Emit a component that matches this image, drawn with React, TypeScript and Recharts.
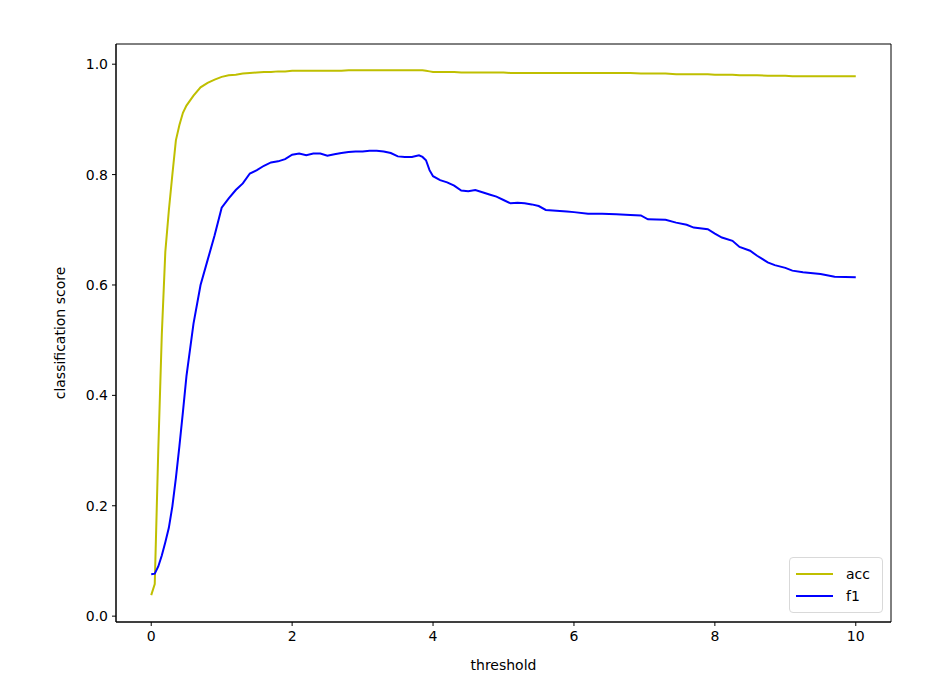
import { Line, LineChart, XAxis, YAxis, Legend, ReferenceArea } from 'recharts';

const threshold = [
  0, 0.05, 0.1, 0.15, 0.2, 0.25, 0.3, 0.35, 0.4, 0.45, 0.5, 0.6, 0.7, 0.8, 0.9,
  1.0, 1.1, 1.2, 1.3, 1.4, 1.5, 1.6, 1.7, 1.8, 1.9,
  2.0, 2.1, 2.2, 2.3, 2.4, 2.5, 2.6, 2.7, 2.8, 2.9,
  3.0, 3.1, 3.2, 3.3, 3.4, 3.5, 3.6, 3.7, 3.8, 3.85, 3.9, 3.95,
  4.0, 4.1, 4.2, 4.3, 4.4, 4.5, 4.6, 4.7, 4.8, 4.9,
  5.0, 5.1, 5.2, 5.3, 5.4, 5.5, 5.6, 5.7, 5.8, 5.9,
  6.0, 6.2, 6.4, 6.6, 6.8, 6.95, 7.05, 7.3, 7.45, 7.6, 7.7, 7.9,
  8.0, 8.1, 8.25, 8.35, 8.5, 8.6, 8.75, 8.85, 9.0, 9.1, 9.25, 9.5, 9.7, 10.0,
];

const acc = [
  0.038, 0.058, 0.3, 0.51, 0.66, 0.735, 0.8, 0.862, 0.89, 0.912, 0.925, 0.943, 0.958, 0.966, 0.972,
  0.977, 0.98, 0.981, 0.983, 0.984, 0.985, 0.986, 0.986, 0.987, 0.987,
  0.988, 0.988, 0.988, 0.988, 0.988, 0.988, 0.988, 0.988, 0.989, 0.989,
  0.989, 0.989, 0.989, 0.989, 0.989, 0.989, 0.989, 0.989, 0.989, 0.989, 0.988, 0.987,
  0.986, 0.986, 0.986, 0.986, 0.985, 0.985, 0.985, 0.985, 0.985, 0.985,
  0.985, 0.984, 0.984, 0.984, 0.984, 0.984, 0.984, 0.984, 0.984, 0.984,
  0.984, 0.984, 0.984, 0.984, 0.984, 0.983, 0.983, 0.983, 0.982, 0.982, 0.982, 0.982,
  0.981, 0.981, 0.981, 0.98, 0.98, 0.98, 0.979, 0.979, 0.979, 0.978, 0.978, 0.978, 0.978, 0.978,
];

const f1 = [
  0.076, 0.077, 0.09, 0.11, 0.134, 0.16, 0.199, 0.25, 0.308, 0.37, 0.435, 0.53, 0.6, 0.645, 0.69,
  0.74, 0.757, 0.772, 0.784, 0.802, 0.808, 0.816, 0.822, 0.824, 0.828,
  0.836, 0.838, 0.835, 0.838, 0.838, 0.834, 0.837, 0.839, 0.841, 0.842,
  0.842, 0.843, 0.843, 0.842, 0.839, 0.833, 0.832, 0.832, 0.835, 0.832, 0.826, 0.808,
  0.797, 0.79, 0.786, 0.78, 0.771, 0.77, 0.772, 0.768, 0.764, 0.76,
  0.754, 0.748, 0.749, 0.748, 0.746, 0.743, 0.736, 0.735, 0.734, 0.733,
  0.732, 0.729, 0.729, 0.728, 0.727, 0.726, 0.719, 0.718, 0.713, 0.709, 0.704, 0.701,
  0.693, 0.686, 0.68, 0.669, 0.662, 0.653, 0.641, 0.636, 0.631, 0.626, 0.623, 0.62, 0.615, 0.614,
];

const xTicks = [0, 2, 4, 6, 8, 10];
const yTicks = [0, 0.2, 0.4, 0.6, 0.8, 1.0];

const data = threshold.map((t, i) => ({ threshold: t, acc: acc[i], f1: f1[i] }));

const X_DOMAIN: [number, number] = [-0.5, 10.5];
const Y_DOMAIN: [number, number] = [-0.0106, 1.0366];

const tickStyle = { fontSize: 14, fill: '#000', fontFamily: 'DejaVu Sans' };

const LegendBox = ({ payload }: any) => (
  <div
    style={{
      position: 'absolute',
      left: 789,
      top: 557,
      width: 94,
      padding: '5px 8px 5px 6px',
      border: '1px solid #d9d9d9',
      borderRadius: 4,
      background: '#fff',
      fontFamily: 'DejaVu Sans',
      fontSize: 14,
      lineHeight: '22px',
      boxSizing: 'border-box',
      color: '#000',
    }}
  >
    {(payload || []).map((p: any) => (
      <div key={p.value} style={{ display: 'flex', alignItems: 'center' }}>
        <span style={{ display: 'inline-block', width: 37, height: 2, background: p.color, marginRight: 13 }} />
        <span>{p.value}</span>
      </div>
    ))}
  </div>
);

const App = () => {
  return (
    <div style={{ position: 'absolute', left: 0, top: 0, width: 952, height: 697, background: '#fff' }}>
      <LineChart
        width={952}
        height={697}
        data={data}
        margin={{ top: 44, right: 61, left: 56, bottom: 25 }}
      >
        <XAxis
          dataKey="threshold"
          type="number"
          domain={X_DOMAIN}
          ticks={xTicks}
          height={50}
          allowDataOverflow
          stroke="#000"
          tickSize={4}
          tick={tickStyle}
          tickMargin={5}
          label={{ value: 'threshold', position: 'insideBottom', offset: 2, style: { ...tickStyle, textAnchor: 'middle' } }}
        />
        <YAxis
          type="number"
          domain={Y_DOMAIN}
          ticks={yTicks}
          width={60}
          allowDataOverflow
          stroke="#000"
          tickSize={4}
          tick={tickStyle}
          tickMargin={4}
          tickFormatter={(v: number) => v.toFixed(1)}
          label={{ value: 'classification score', angle: -90, position: 'insideLeft', offset: 4, style: { ...tickStyle, textAnchor: 'middle' } }}
        />
        <ReferenceArea
          x1={X_DOMAIN[0]}
          x2={X_DOMAIN[1]}
          y1={Y_DOMAIN[0]}
          y2={Y_DOMAIN[1]}
          fill="none"
          stroke="#000"
          strokeWidth={1}
        />
        <Line
          type="linear"
          dataKey="acc"
          name="acc"
          stroke="#bfbf00"
          strokeWidth={2}
          dot={false}
          isAnimationActive={false}
        />
        <Line
          type="linear"
          dataKey="f1"
          name="f1"
          stroke="#0000ff"
          strokeWidth={2}
          dot={false}
          isAnimationActive={false}
        />
        <Legend
          layout="horizontal"
          verticalAlign="middle"
          align="center"
          wrapperStyle={{ left: 0, top: 0, width: 952, height: 0 }}
          content={<LegendBox />}
        />
      </LineChart>
    </div>
  );
};

export default App;
